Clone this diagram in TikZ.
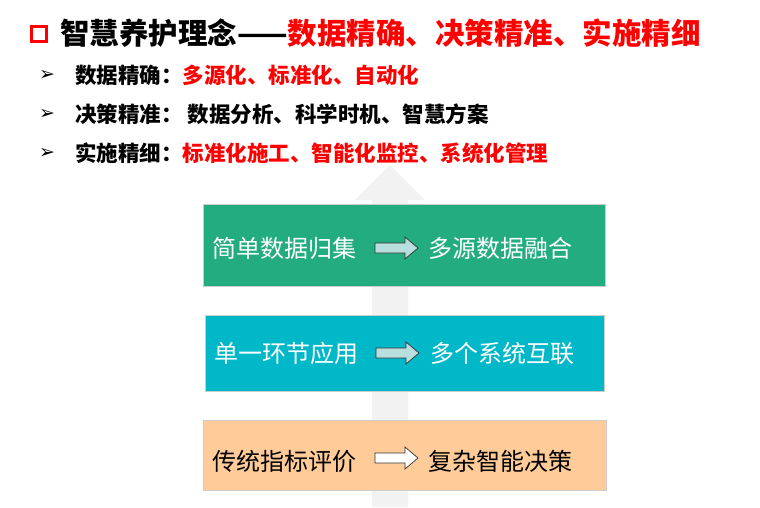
\documentclass[tikz,border=0pt]{standalone}
\usepackage{fontspec}
\setmainfont{Noto Sans CJK SC}
\newfontfamily\dv{DejaVu Sans}
\definecolor{tred}{HTML}{FF0000}
\definecolor{bgreen}{HTML}{22AC80}
\definecolor{bcyan}{HTML}{00B8C8}
\definecolor{borange}{HTML}{FFCC99}
\definecolor{agray}{HTML}{F2F2F2}
\definecolor{afill}{HTML}{B8DEDE}
\tikzset{
  bar/.style={draw=white!80!black, line width=0.6pt, minimum width=402pt, anchor=north west, inner sep=0pt},
  btext/.style={anchor=west, font=\fontsize{24}{27}\selectfont, inner sep=0pt},
  bul/.style={anchor=west, font=\bfseries\fontsize{21.5}{24}\selectfont, inner sep=0pt},
  sarrow/.style={draw=black!80, line width=0.7pt}
}
\newcommand\smallarrow[3]{\draw[sarrow, fill=#3] (#1,#2) ++(0,-5) -- ++(30,0) -- ++(0,-6) -- ++(13,11) -- ++(-13,11) -- ++(0,-6) -- ++(-30,0) -- cycle;}
\begin{document}
\begin{tikzpicture}[x=1pt,y=-1pt]
\useasboundingbox (0,0) rectangle (760,507);
\fill[white] (0,0) rectangle (760,507);
% big gray arrow
\fill[agray] (372,507) -- (372,200) -- (355,200) -- (390,165) -- (425,200) -- (408,200) -- (408,507) -- cycle;
% title
\draw[tred, line width=3pt] (31,26) rectangle (46,41);
\node[anchor=west, inner sep=0pt, font=\bfseries\fontsize{29.5}{32}\selectfont] (title) at (60,33) {智慧养护理念——\textcolor{tred}{数据精确、决策精准、实施精细}};
% bullets
\foreach \y/\n in {75/a,114/b,153/c} \node[inner sep=0pt, font=\dv\fontsize{19}{20}\selectfont] (m\n) at (47,\y) {➢};
\node[bul] (l1) at (75,75) {数据精确：\textcolor{tred}{多源化、标准化、自动化}};
\node[bul] (l2) at (75,114) {决策精准：\ 数据分析、科学时机、智慧方案};
\node[bul] (l3) at (75,153) {实施精细：\textcolor{tred}{标准化施工、智能化监控、系统化管理}};
% boxes
\node[bar, fill=bgreen, minimum height=82pt] (g) at (203,204) {};
\node[bar, fill=bcyan, minimum height=76pt, minimum width=399pt] (c) at (205,315) {};
\node[bar, fill=borange, minimum height=70pt, minimum width=403pt] (o) at (203,420) {};
\node[btext, text=white] (g1) at (212,248) {简单数据归集};
\node[btext, text=white] (g2) at (428,248) {多源数据融合};
\node[btext, text=white] (c1) at (214,353) {单一环节应用};
\node[btext, text=white] (c2) at (430,353) {多个系统互联};
\node[btext, text=black] (o1) at (212,461) {传统指标评价};
\node[btext, text=black] (o2) at (428,461) {复杂智能决策};
\smallarrow{375}{248}{afill}
\smallarrow{376}{353}{afill}
\smallarrow{375}{458}{white}
\end{tikzpicture}
\end{document}
